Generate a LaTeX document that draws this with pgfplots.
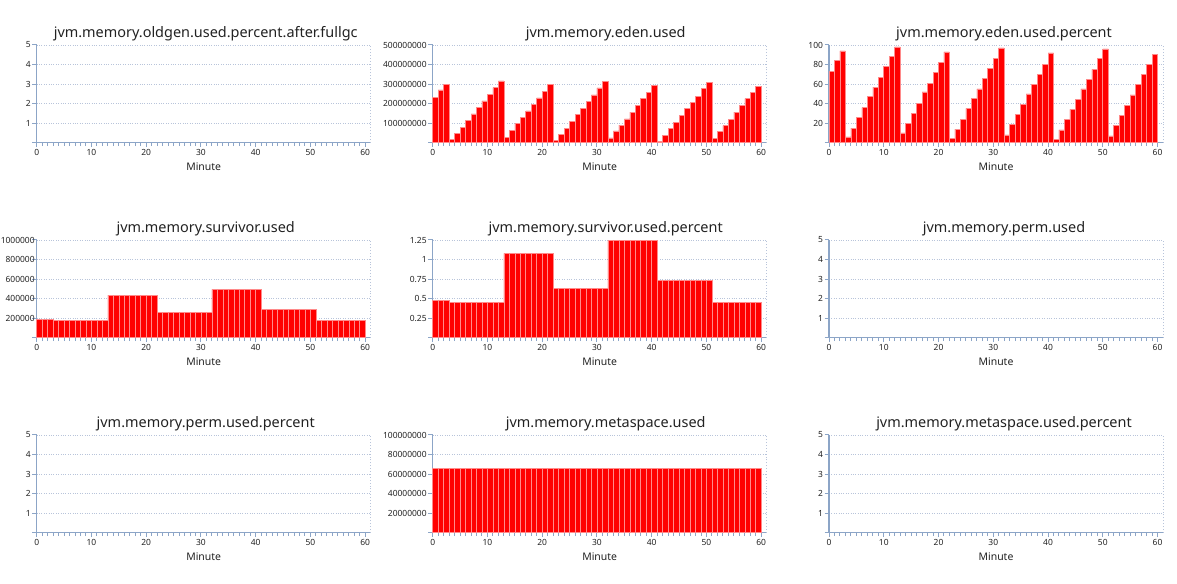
\documentclass[border=0pt]{standalone}
\usepackage{pgfplots}
\pgfplotsset{compat=1.18}
\usepackage{fontspec}
\setmainfont{Noto Sans}
\definecolor{axcol}{HTML}{8CA5C7}
\definecolor{gridcol}{HTML}{B8C4DA}
\definecolor{txt}{HTML}{222222}
\definecolor{barred}{HTML}{FF0000}
\definecolor{baredge}{HTML}{FF8A8A}
\pgfplotsset{
  jvm/.style={
    scale only axis, width=334bp, height=97.7bp,
    xmin=0, xmax=61, ymin=0,
    axis x line*=bottom, axis y line*=left,
    axis line style={draw=axcol, line width=1.4bp},
    xtick={0,10,...,60}, minor xtick={1,...,59},
    tick align=outside,
    major tick length=4.5bp, minor tick length=3.5bp,
    every tick/.style={draw=axcol, line width=1bp},
    ymajorgrids, grid style={draw=gridcol, dotted, line width=0.9bp},
    /pgf/number format/assume math mode=true,
    scaled y ticks=false,
    tick label style={font=\fontsize{8.5}{9}\selectfont, text=txt},
    xticklabel style={yshift=1bp},
    yticklabel style={xshift=2bp},
    title style={font=\fontsize{14.5}{16}\selectfont, text=txt, at={(0.5,1)}, anchor=south, yshift=-5bp},
    xlabel={Minute},
    every axis x label/.style={at={(axis description cs:0.5,0)}, anchor=center, yshift=-24bp, font=\fontsize{10.5}{12}\selectfont, text=txt},
    clip=false,
  },
  colA/.style={title style={xshift=2bp}},
  colB/.style={title style={xshift=6bp}},
  colC/.style={title style={xshift=8bp}},
  redbars/.style={ybar, bar width=1, bar shift=0.5, fill=barred, draw=baredge, line width=0.6bp},
}
\newcommand{\rightborder}{\draw[gridcol, dotted, line width=0.9bp] (rel axis cs:1,0) -- (rel axis cs:1,1);}
\begin{document}
\begin{tikzpicture}
\path[use as bounding box] (0,0) rectangle (1177bp,584bp);

% Row 1
\begin{axis}[jvm, colA, at={(36.7bp,441.3bp)}, anchor=south west,
  title={jvm.memory.oldgen.used.percent.after.fullgc},
  ymax=5, ytick={0,1,2,3,4,5}, yticklabels={,1,2,3,4,5}]
\addplot[draw=none] coordinates {(0,0)};
\rightborder
\end{axis}

\begin{axis}[jvm, colB, at={(432.7bp,441.3bp)}, anchor=south west,
  title={jvm.memory.eden.used},
  ymax=500000000, ytick={0,100000000,200000000,300000000,400000000,500000000},
  yticklabels={,100000000,200000000,300000000,400000000,500000000}]
\addplot[redbars] coordinates {
(0,232000000)(1,270000000)(2,300000000)(3,15000000)(4,47000000)(5,80000000)(6,113000000)(7,147000000)(8,181000000)(9,214000000)
(10,248000000)(11,282000000)(12,316000000)(13,28000000)(14,63000000)(15,97000000)(16,130000000)(17,163000000)(18,197000000)(19,229000000)
(20,263000000)(21,298000000)(22,10000000)(23,44000000)(24,75000000)(25,108000000)(26,143000000)(27,176000000)(28,213000000)(29,245000000)
(30,280000000)(31,313000000)(32,25000000)(33,60000000)(34,90000000)(35,122000000)(36,157000000)(37,192000000)(38,227000000)(39,258000000)
(40,295000000)(41,7000000)(42,38000000)(43,75000000)(44,105000000)(45,140000000)(46,175000000)(47,207000000)(48,238000000)(49,277000000)
(50,310000000)(51,22000000)(52,57000000)(53,87000000)(54,121000000)(55,157000000)(56,192000000)(57,226000000)(58,258000000)(59,290000000)
};
\rightborder
\end{axis}

\begin{axis}[jvm, colC, at={(829bp,441.3bp)}, anchor=south west,
  title={jvm.memory.eden.used.percent},
  ymax=100, ytick={0,20,40,60,80,100}, yticklabels={,20,40,60,80,100}]
\addplot[redbars] coordinates {
(0,73)(1,84)(2,94)(3,6)(4,15)(5,26)(6,36)(7,47)(8,57)(9,67)
(10,78)(11,88)(12,98)(13,10)(14,20)(15,30)(16,40)(17,52)(18,61)(19,72)
(20,82)(21,93)(22,4)(23,14)(24,24)(25,35)(26,45)(27,55)(28,66)(29,76)
(30,86)(31,97)(32,8)(33,19)(34,29)(35,39)(36,50)(37,60)(38,70)(39,80)
(40,92)(41,3)(42,13)(43,24)(44,34)(45,44)(46,55)(47,65)(48,75)(49,86)
(50,96)(51,7)(52,18)(53,28)(54,38)(55,49)(56,60)(57,70)(58,80)(59,90)
};
\rightborder
\end{axis}

% Row 2
\begin{axis}[jvm, colA, at={(36.7bp,246.3bp)}, anchor=south west,
  title={jvm.memory.survivor.used},
  yticklabel style={xshift=4bp},
  ymax=1000000, ytick={0,200000,400000,600000,800000,1000000},
  yticklabels={,200000,400000,600000,800000,1000000}]
\addplot[redbars] coordinates {
(0,185000)(1,185000)(2,185000)(3,178000)(4,178000)(5,178000)(6,178000)(7,178000)(8,178000)(9,178000)
(10,178000)(11,178000)(12,178000)(13,435000)(14,435000)(15,435000)(16,435000)(17,435000)(18,435000)(19,435000)
(20,435000)(21,435000)(22,255000)(23,255000)(24,255000)(25,255000)(26,255000)(27,255000)(28,255000)(29,255000)
(30,255000)(31,255000)(32,495000)(33,495000)(34,495000)(35,495000)(36,495000)(37,495000)(38,495000)(39,495000)
(40,495000)(41,290000)(42,290000)(43,290000)(44,290000)(45,290000)(46,290000)(47,290000)(48,290000)(49,290000)
(50,290000)(51,180000)(52,180000)(53,180000)(54,180000)(55,180000)(56,180000)(57,180000)(58,180000)(59,180000)
};
\rightborder
\end{axis}

\begin{axis}[jvm, colB, at={(432.7bp,246.3bp)}, anchor=south west,
  title={jvm.memory.survivor.used.percent},
  ymax=1.25, ytick={0,0.25,0.5,0.75,1,1.25},
  yticklabels={,0.25,0.5,0.75,1,1.25}]
\addplot[redbars] coordinates {
(0,0.475)(1,0.475)(2,0.475)(3,0.455)(4,0.455)(5,0.455)(6,0.455)(7,0.455)(8,0.455)(9,0.455)
(10,0.455)(11,0.455)(12,0.455)(13,1.08)(14,1.08)(15,1.08)(16,1.08)(17,1.08)(18,1.08)(19,1.08)
(20,1.08)(21,1.08)(22,0.635)(23,0.635)(24,0.635)(25,0.635)(26,0.635)(27,0.635)(28,0.635)(29,0.635)
(30,0.635)(31,0.635)(32,1.24)(33,1.24)(34,1.24)(35,1.24)(36,1.24)(37,1.24)(38,1.24)(39,1.24)
(40,1.24)(41,0.73)(42,0.73)(43,0.73)(44,0.73)(45,0.73)(46,0.73)(47,0.73)(48,0.73)(49,0.73)
(50,0.73)(51,0.455)(52,0.455)(53,0.455)(54,0.455)(55,0.455)(56,0.455)(57,0.455)(58,0.455)(59,0.455)
};
\rightborder
\end{axis}

\begin{axis}[jvm, colC, at={(829bp,246.3bp)}, anchor=south west,
  title={jvm.memory.perm.used},
  ymax=5, ytick={0,1,2,3,4,5}, yticklabels={,1,2,3,4,5}]
\addplot[draw=none] coordinates {(0,0)};
\rightborder
\end{axis}

% Row 3
\begin{axis}[jvm, colA, at={(36.7bp,51.3bp)}, anchor=south west,
  title={jvm.memory.perm.used.percent},
  ymax=5, ytick={0,1,2,3,4,5}, yticklabels={,1,2,3,4,5}]
\addplot[draw=none] coordinates {(0,0)};
\rightborder
\end{axis}

\begin{axis}[jvm, colB, at={(432.7bp,51.3bp)}, anchor=south west,
  title={jvm.memory.metaspace.used},
  ymax=100000000, ytick={0,20000000,40000000,60000000,80000000,100000000},
  yticklabels={,20000000,40000000,60000000,80000000,100000000}]
\addplot[redbars] coordinates {
(0,66000000)(1,66000000)(2,66000000)(3,66000000)(4,66000000)(5,66000000)(6,66000000)(7,66000000)(8,66000000)(9,66000000)
(10,66000000)(11,66000000)(12,66000000)(13,66000000)(14,66000000)(15,66000000)(16,66000000)(17,66000000)(18,66000000)(19,66000000)
(20,66000000)(21,66000000)(22,66000000)(23,66000000)(24,66000000)(25,66000000)(26,66000000)(27,66000000)(28,66000000)(29,66000000)
(30,66000000)(31,66000000)(32,66000000)(33,66000000)(34,66000000)(35,66000000)(36,66000000)(37,66000000)(38,66000000)(39,66000000)
(40,66000000)(41,66000000)(42,66000000)(43,66000000)(44,66000000)(45,66000000)(46,66000000)(47,66000000)(48,66000000)(49,66000000)
(50,66000000)(51,66000000)(52,66000000)(53,66000000)(54,66000000)(55,66000000)(56,66000000)(57,66000000)(58,66000000)(59,66000000)
};
\rightborder
\end{axis}

\begin{axis}[jvm, colC, at={(829bp,51.3bp)}, anchor=south west,
  title={jvm.memory.metaspace.used.percent},
  ymax=5, ytick={0,1,2,3,4,5}, yticklabels={,1,2,3,4,5}]
\addplot[draw=none] coordinates {(0,0)};
\rightborder
\end{axis}
\end{tikzpicture}
\end{document}
